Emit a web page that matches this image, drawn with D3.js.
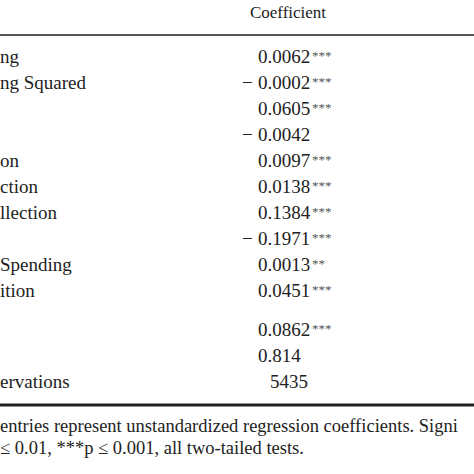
<!DOCTYPE html>
<html><head><meta charset="utf-8">
<script src="https://cdn.jsdelivr.net/npm/d3@7"></script>
<style>body{margin:0;background:#fff}svg{display:block}text{font-family:'Liberation Serif','DejaVu Serif',serif}</style>
</head><body><div id="chart"></div>
<script>
// visible fragments of the row labels (table is cropped on the left)
const labels = ["ng", "ng Squared", "", "", "on", "ction", "llection", "", "Spending", "ition", "", "", "ervations"]
const values = [0.0062, -0.0002, 0.0605, -0.0042, 0.0097, 0.0138, 0.1384, -0.1971, 0.0013, 0.0451, 0.0862, 0.814, 5435]
const valueText = ["0.0062", "0.0002", "0.0605", "0.0042", "0.0097", "0.0138", "0.1384", "0.1971", "0.0013", "0.0451", "0.0862", "0.814", "5435"]
const stars = ["***", "***", "***", "", "***", "***", "***", "***", "**", "***", "***", "", ""]
const notes = ["entries represent unstandardized regression coefficients. Signi", "≤ 0.01, ***p ≤ 0.001, all two-tailed tests."]

const W = 474, H = 474
const svg = d3.select('#chart').append('svg').attr('width', W).attr('height', H)

// row slot: first ten coefficient rows, then a half-row gap before the statistics
const slot = (i) => i < 10 ? i : i + 0.5
const y = d3.scaleLinear().domain([0, 1]).range([57, 83])

svg.append('text').attr('x', 288).attr('y', 18).attr('text-anchor', 'middle')
  .attr('font-size', 17).attr('fill', '#222').text('Coefficient')

svg.append('line').attr('x1', 0).attr('x2', W).attr('y1', 35).attr('y2', 35)
  .attr('stroke', '#555').attr('stroke-width', 1.8)

const rows = svg.selectAll('.row').data(values).enter().append('g')
  .attr('class', 'row')
  .attr('transform', (d, i) => 'translate(0,' + (y(slot(i)) + 6) + ')')

rows.append('text').attr('x', 0).attr('font-size', 19).attr('fill', '#222')
  .text((d, i) => labels[i])

rows.append('text').attr('x', (d, i) => i === 12 ? 270 : 258)
  .attr('font-size', 19).attr('fill', '#222')
  .text((d, i) => valueText[i])

rows.filter(d => d < 0).append('text').attr('x', 242).attr('font-size', 19).attr('fill', '#222')
  .text('−')

rows.append('text').attr('x', 312).attr('y', -3).attr('font-size', 13).attr('fill', '#555')
  .text((d, i) => stars[i])

svg.append('line').attr('x1', 0).attr('x2', W).attr('y1', 405).attr('y2', 405)
  .attr('stroke', '#222').attr('stroke-width', 3)

svg.selectAll('.note').data(notes).enter().append('text')
  .attr('class', 'note').attr('x', 0).attr('y', (d, i) => 432 + i * 22)
  .attr('font-size', 18.5).attr('fill', '#222').text(d => d)
</script></body></html>
